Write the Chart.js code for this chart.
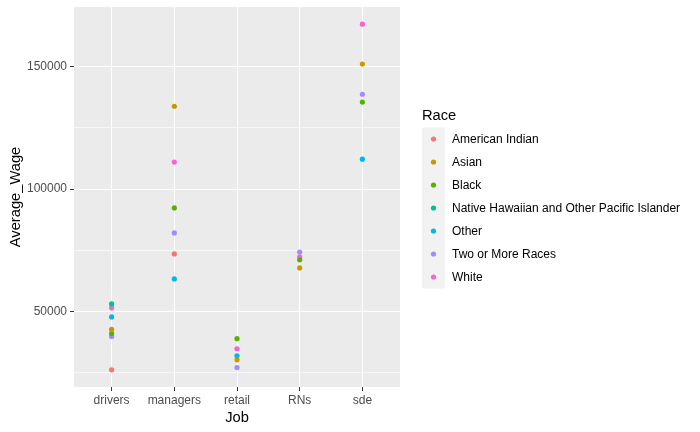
<!DOCTYPE html>
<html>
<head>
<meta charset="utf-8">
<script src="https://cdn.jsdelivr.net/npm/chart.js@4"></script>
<style>
  html, body { margin: 0; padding: 0; background: #fff; }
  canvas { display: block; }
</style>
</head>
<body>
<canvas id="chart" width="700" height="432"></canvas>
<script>
const jobs = ['drivers', 'managers', 'retail', 'RNs', 'sde'];
const races = ['American Indian', 'Asian', 'Black', 'Native Hawaiian and Other Pacific Islander', 'Other', 'Two or More Races', 'White'];
const raceColors = ['#F8766D', '#C49A00', '#53B400', '#00C094', '#00B6EB', '#A58AFF', '#FB61D7'];

// average wage per job (same order as jobs), null = no data
const americanIndian = [26200, 73500, null, null, null];
const asian          = [42700, 133800, 30300, 67800, 151000];
const black          = [41000, 92300, 38900, 71100, 135500];
const nativeHawaiian = [53100, null, null, null, null];
const other          = [47800, 63300, 31900, null, 112200];
const twoOrMore      = [39800, 82100, 27100, 74300, 138700];
const white          = [51500, 111000, 34800, 72300, 167300];
const seriesValues = [americanIndian, asian, black, nativeHawaiian, other, twoOrMore, white];

const yMajorTicks = [50000, 100000, 150000];
const yMinorTicks = [25000, 75000, 125000];

const FONT = "'Liberation Sans', Arial, sans-serif";

const datasets = races.map((race, r) => ({
    label: race,
    data: jobs.map((j, i) => ({ x: i, y: seriesValues[r][i] })).filter(p => p.y !== null),
    backgroundColor: raceColors[r],
    borderWidth: 0,
    pointRadius: 2.6,
    pointHoverRadius: 2.6
}));

// grey panel like ggplot
const panelBg = {
    id: 'panelBg',
    beforeDraw(chart) {
        const { ctx, chartArea: a } = chart;
        ctx.save();
        ctx.fillStyle = '#EBEBEB';
        ctx.fillRect(a.left, a.top, a.right - a.left, a.bottom - a.top);
        ctx.restore();
    }
};

// legend with grey key column
const ggLegend = {
    id: 'ggLegend',
    afterDraw(chart) {
        const ctx = chart.ctx;
        const x0 = 422, top = 127.5, rowH = 23;
        ctx.save();
        ctx.fillStyle = '#000';
        ctx.font = '14.7px ' + FONT;
        ctx.textBaseline = 'alphabetic';
        ctx.textAlign = 'left';
        ctx.fillText('Race', x0, 120);
        ctx.fillStyle = '#F2F2F2';
        ctx.fillRect(x0, top, 23, rowH * chart.data.datasets.length);
        ctx.font = '12px ' + FONT;
        ctx.textBaseline = 'middle';
        chart.data.datasets.forEach((ds, i) => {
            const cy = top + rowH * i + rowH / 2;
            ctx.fillStyle = ds.backgroundColor;
            ctx.beginPath();
            ctx.arc(x0 + 11.5, cy, 2.6, 0, Math.PI * 2);
            ctx.fill();
            ctx.fillStyle = '#000';
            ctx.fillText(ds.label, 452, cy + 1);
        });
        ctx.restore();
    }
};

new Chart(document.getElementById('chart'), {
    type: 'scatter',
    data: { datasets: datasets },
    plugins: [panelBg, ggLegend],
    options: {
        responsive: false,
        animation: false,
        devicePixelRatio: 1,
        layout: { padding: { top: 7, right: 300, left: 0, bottom: 0 } },
        plugins: { legend: { display: false }, tooltip: { enabled: false } },
        scales: {
            x: {
                type: 'linear',
                min: -0.6,
                max: 4.6,
                afterBuildTicks: s => { s.ticks = jobs.map((j, i) => ({ value: i })); },
                afterFit: s => { s.height = 45; s.paddingLeft = 0; s.paddingRight = 0; },
                border: { display: false },
                grid: { color: '#FFFFFF', lineWidth: 1, tickColor: '#333333', tickLength: 4, tickWidth: 1 },
                ticks: {
                    callback: v => jobs[v],
                    color: '#4D4D4D',
                    font: { family: FONT, size: 12 },
                    padding: 2,
                    maxRotation: 0,
                    autoSkip: false
                },
                title: {
                    display: true,
                    text: 'Job',
                    color: '#000',
                    font: { family: FONT, size: 14.7 },
                    padding: { top: 0, bottom: 5 }
                }
            },
            y: {
                min: 19190,
                max: 174320,
                afterBuildTicks: s => {
                    s.ticks = yMinorTicks.concat(yMajorTicks).sort((a, b) => a - b).map(v => ({ value: v }));
                },
                afterFit: s => { s.width = 74; s.paddingTop = 0; s.paddingBottom = 0; },
                border: { display: false },
                grid: {
                    color: c => yMajorTicks.includes(c.tick.value) ? '#FFFFFF' : '#F7F7F7',
                    lineWidth: 1,
                    tickColor: c => yMajorTicks.includes(c.tick.value) ? '#333333' : 'rgba(0,0,0,0)',
                    tickLength: 4,
                    tickWidth: 1
                },
                ticks: {
                    callback: v => yMajorTicks.includes(v) ? String(v) : '',
                    color: '#4D4D4D',
                    font: { family: FONT, size: 12 },
                    padding: 3,
                    autoSkip: false
                },
                title: {
                    display: true,
                    text: 'Average_Wage',
                    color: '#000',
                    font: { family: FONT, size: 14.7 },
                    padding: { top: 7.5, bottom: 0 }
                }
            }
        }
    }
});
</script>
</body>
</html>
